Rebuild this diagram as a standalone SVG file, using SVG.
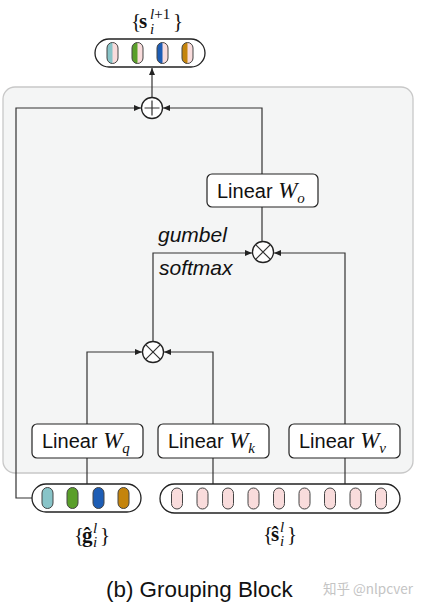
<svg xmlns="http://www.w3.org/2000/svg" width="426" height="608" viewBox="0 0 426 608">
<defs>
<marker id="arr" markerUnits="userSpaceOnUse" markerWidth="7" markerHeight="6" refX="7" refY="3" orient="auto">
<path d="M0,0 L7,3 L0,6 z" fill="#222"/>
</marker>
<style>
.ln{fill:none;stroke:#333;stroke-width:1.2}
.box{fill:#fff;stroke:#222;stroke-width:1.2}
.pill{fill:#fff;stroke:#222;stroke-width:1.3}
.tok{stroke:#444;stroke-width:1}
.pink{fill:#f9dcdc}
.lin{font-family:"Liberation Sans",Arial,sans-serif;font-size:20px;fill:#111}
.w{font-family:"Liberation Serif","Times New Roman",serif;font-style:italic;font-size:23px}
.ws{font-family:"Liberation Serif","Times New Roman",serif;font-style:italic;font-size:15px}
.m{font-family:"Liberation Serif","Times New Roman",serif;font-size:21px;fill:#111}
.sm{font-size:15px;font-style:italic;font-weight:normal}
.it{font-family:"Liberation Sans",Arial,sans-serif;font-style:italic;font-size:21px;fill:#111}
.op{fill:#fff;stroke:#222;stroke-width:1.3}
</style>
</defs>
<rect id="panel" x="3" y="87" width="410" height="386" rx="12" fill="#f4f5f5" stroke="#c8c8c8" stroke-width="1.3"/>

<g id="connectors">
<path class="ln" d="M152,97 V68" marker-end="url(#arr)"/>
<path class="ln" d="M32,498 H16 V108 H141" marker-end="url(#arr)"/>
<path class="ln" d="M262,174 V108 H163" marker-end="url(#arr)"/>
<path class="ln" d="M262,207 V241"/>
<path class="ln" d="M345,424 V253 H274" marker-end="url(#arr)"/>
<path class="ln" d="M153,341 V253 H252" marker-end="url(#arr)"/>
<path class="ln" d="M87,424 V352 H142" marker-end="url(#arr)"/>
<path class="ln" d="M213,424 V352 H164" marker-end="url(#arr)"/>
<path class="ln" d="M87,458 V485"/>
<path class="ln" d="M213,458 V484"/>
<path class="ln" d="M345,458 V484"/>
</g>

<g id="out">
<text class="m" x="131" y="28">{<tspan font-weight="bold" x="139">s</tspan><tspan class="sm" x="150" y="19">l<tspan font-style="normal">+1</tspan></tspan><tspan class="sm" x="150" y="34">i</tspan><tspan x="173" y="28">}</tspan></text>
<rect class="pill" x="95" y="39" width="110" height="28" rx="14"/>
<g class="tok">
<rect class="pink" x="107" y="42.5" width="11" height="21" rx="5.5" stroke="none"/>
<path d="M112.5,42.5 A5.5,5.5 0 0 0 107,48 V58 A5.5,5.5 0 0 0 112.5,63.5 Z" fill="#88c4c8" stroke="none"/>
<rect x="107" y="42.5" width="11" height="21" rx="5.5" fill="none"/>
<rect class="pink" x="132" y="42.5" width="11" height="21" rx="5.5" stroke="none"/>
<path d="M137.5,42.5 A5.5,5.5 0 0 0 132,48 V58 A5.5,5.5 0 0 0 137.5,63.5 Z" fill="#5a9f2a" stroke="none"/>
<rect x="132" y="42.5" width="11" height="21" rx="5.5" fill="none"/>
<rect class="pink" x="157" y="42.5" width="11" height="21" rx="5.5" stroke="none"/>
<path d="M162.5,42.5 A5.5,5.5 0 0 0 157,48 V58 A5.5,5.5 0 0 0 162.5,63.5 Z" fill="#1d5db5" stroke="none"/>
<rect x="157" y="42.5" width="11" height="21" rx="5.5" fill="none"/>
<rect class="pink" x="182" y="42.5" width="11" height="21" rx="5.5" stroke="none"/>
<path d="M187.5,42.5 A5.5,5.5 0 0 0 182,48 V58 A5.5,5.5 0 0 0 187.5,63.5 Z" fill="#c4840c" stroke="none"/>
<rect x="182" y="42.5" width="11" height="21" rx="5.5" fill="none"/>
</g>
</g>

<g id="plus">
<circle class="op" cx="152" cy="108" r="10.5"/>
<path class="ln" d="M144.5,108 H159.5 M152,100.5 V115.5" stroke="#222"/>
</g>

<g id="lin-o">
<rect class="box" x="207" y="174" width="111" height="33" rx="5"/>
<text class="lin" x="217" y="198">Linear <tspan class="w">W</tspan><tspan class="ws" dy="5">o</tspan></text>
</g>

<g id="mul-top">
<circle class="op" cx="263" cy="252" r="10.5"/>
<path class="ln" d="M255.6,244.6 L270.4,259.4 M270.4,244.6 L255.6,259.4" stroke="#222"/>
</g>

<g id="gumbel">
<text class="it" x="158" y="242">gumbel</text>
<text class="it" x="159" y="275">softmax</text>
</g>

<g id="mul-bot">
<circle class="op" cx="153" cy="352" r="10.5"/>
<path class="ln" d="M145.6,344.6 L160.4,359.4 M160.4,344.6 L145.6,359.4" stroke="#222"/>
</g>

<g id="lin-q">
<rect class="box" x="32" y="424" width="111" height="34" rx="5"/>
<text class="lin" x="42" y="448">Linear <tspan class="w">W</tspan><tspan class="ws" dy="5">q</tspan></text>
</g>
<g id="lin-k">
<rect class="box" x="158" y="424" width="111" height="34" rx="5"/>
<text class="lin" x="168" y="448">Linear <tspan class="w">W</tspan><tspan class="ws" dy="5">k</tspan></text>
</g>
<g id="lin-v">
<rect class="box" x="289" y="424" width="111" height="34" rx="5"/>
<text class="lin" x="299" y="448">Linear <tspan class="w">W</tspan><tspan class="ws" dy="5">v</tspan></text>
</g>

<g id="g-tokens">
<rect class="pill" x="32" y="484" width="109" height="28" rx="14"/>
<rect class="tok" x="42" y="487.5" width="11" height="21" rx="5.5" fill="#88c4c8"/>
<rect class="tok" x="67" y="487.5" width="11" height="21" rx="5.5" fill="#5a9f2a"/>
<rect class="tok" x="93" y="487.5" width="11" height="21" rx="5.5" fill="#1d5db5"/>
<rect class="tok" x="118" y="487.5" width="11" height="21" rx="5.5" fill="#c4840c"/>
<text class="m" x="74" y="542">{<tspan font-weight="bold" x="82">ĝ</tspan><tspan class="sm" x="93" y="533">l</tspan><tspan class="sm" x="93" y="547">i</tspan><tspan x="100" y="542">}</tspan></text>
</g>

<g id="s-tokens">
<rect class="pill" x="160" y="484" width="240" height="29" rx="14.5"/>
<g class="tok pink">
<rect x="171.5" y="488" width="11" height="21" rx="5.5"/>
<rect x="197" y="488" width="11" height="21" rx="5.5"/>
<rect x="222.5" y="488" width="11" height="21" rx="5.5"/>
<rect x="248" y="488" width="11" height="21" rx="5.5"/>
<rect x="273.5" y="488" width="11" height="21" rx="5.5"/>
<rect x="299" y="488" width="11" height="21" rx="5.5"/>
<rect x="324.5" y="488" width="11" height="21" rx="5.5"/>
<rect x="350" y="488" width="11" height="21" rx="5.5"/>
<rect x="375.5" y="488" width="11" height="21" rx="5.5"/>
</g>
<text class="m" x="263" y="541">{<tspan font-weight="bold" x="271">ŝ</tspan><tspan class="sm" x="280" y="532">l</tspan><tspan class="sm" x="280" y="546">i</tspan><tspan x="287" y="541">}</tspan></text>
</g>

<g id="caption">
<text x="106" y="597" font-family="Liberation Sans, Arial, sans-serif" font-size="22.4" fill="#111">(b) Grouping Block</text>
<text x="323" y="594" font-family="'Noto Sans CJK SC', 'Liberation Sans', sans-serif" font-size="13.5" fill="#c4c4c4">知乎 @nlpcver</text>
</g>
</svg>
